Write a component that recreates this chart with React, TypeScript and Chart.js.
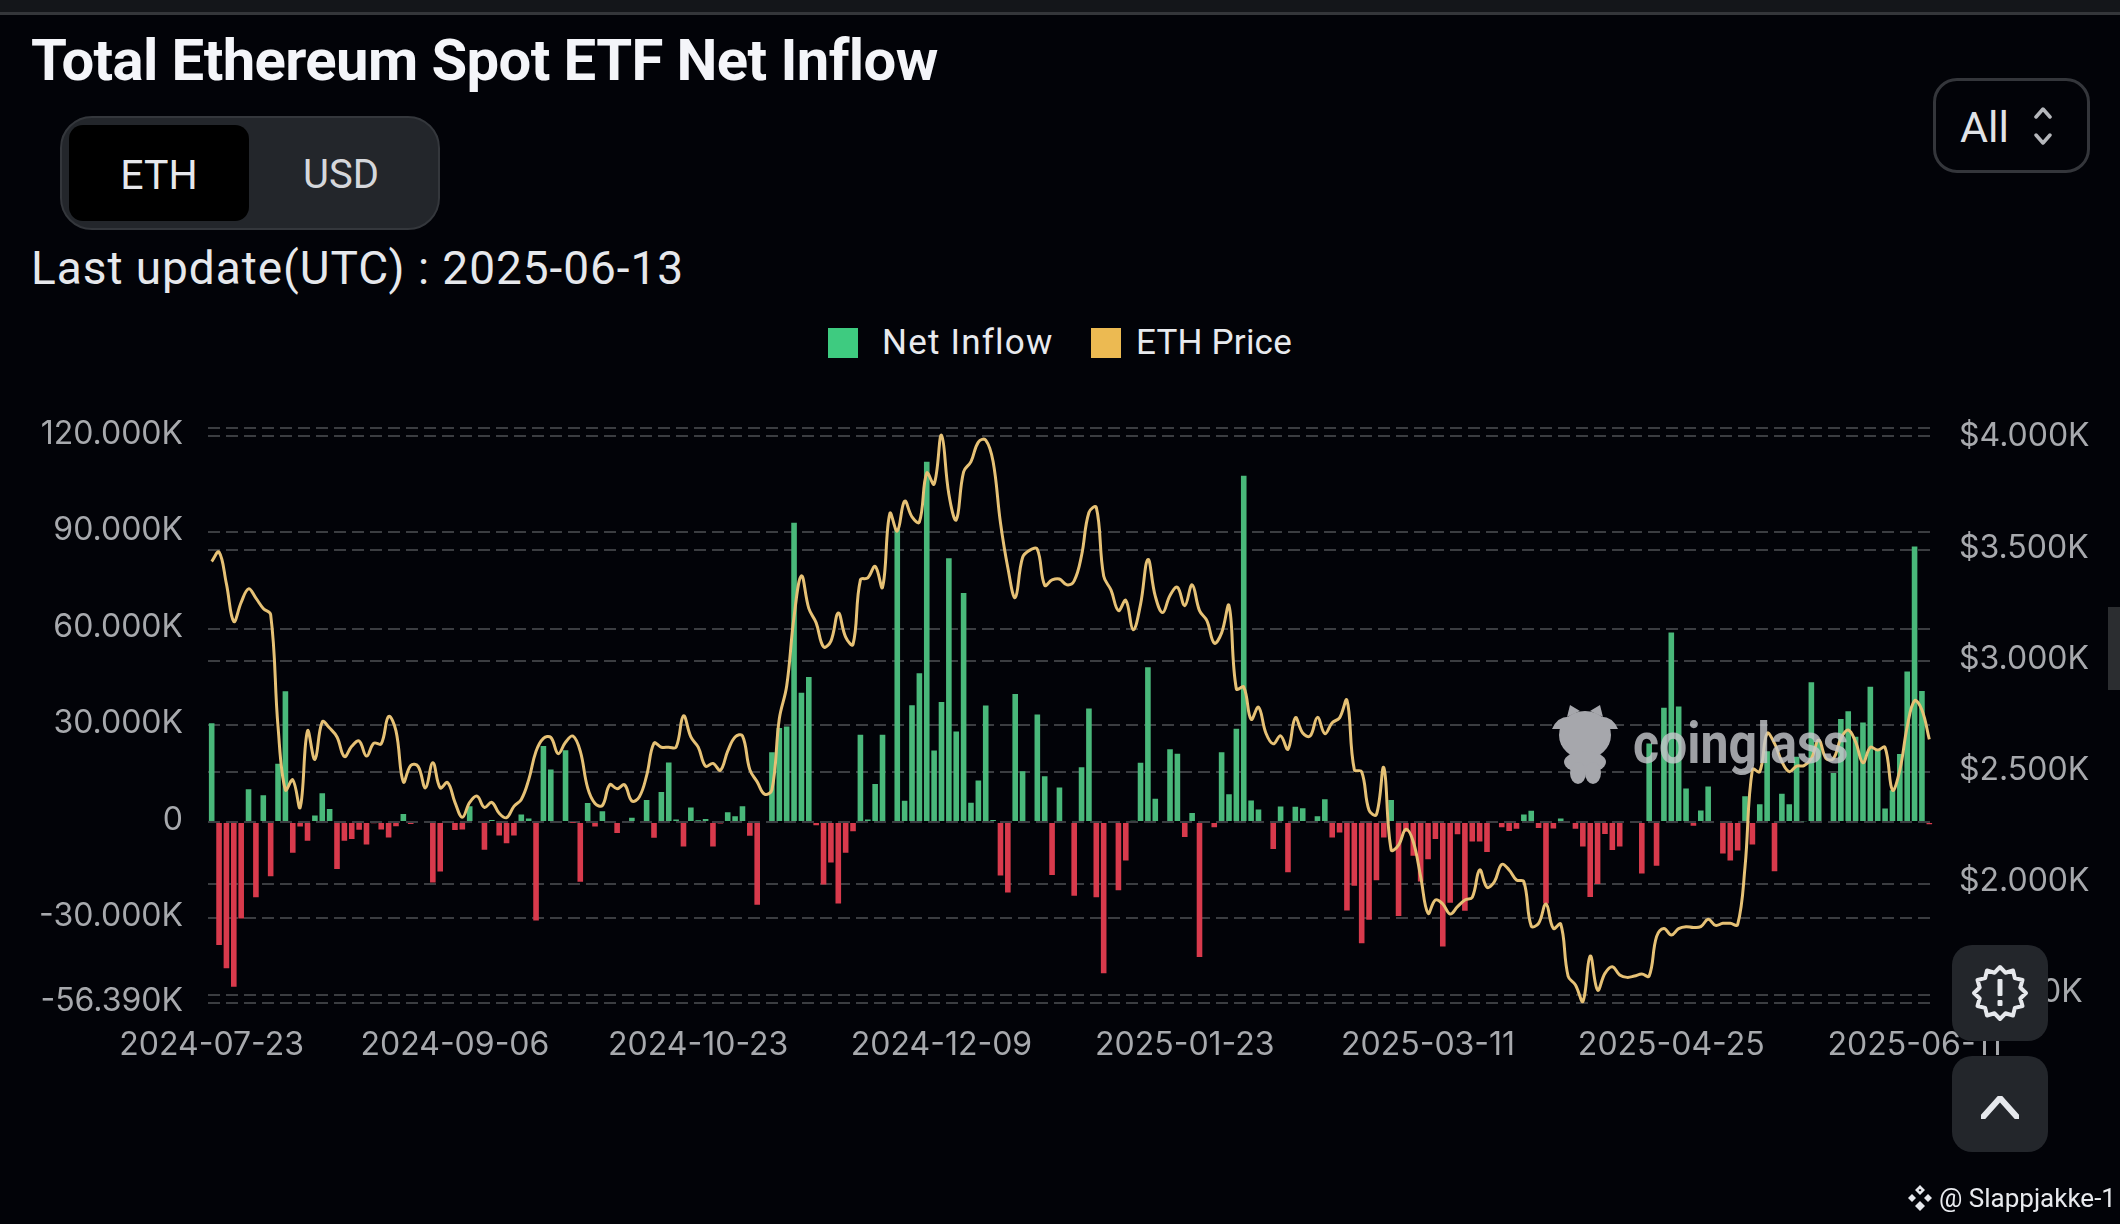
import { useEffect, useRef } from "react";
import { Chart, registerables } from "chart.js";

Chart.register(...registerables);

// net inflow per trading day, thousands of ETH
const netInflow = [
  30.7, -38.2, -45.5, -51.2, -30, 10.2, -23.4, 8.3, -16.9, 18.1, 40.6, -9.6, -1.4, -5.8, 2, 8.9, 4, -14.6, -5.8, -5.3,
  -2.4, -7, -0.4, -2.3, -4.8, -1.3, 2.5, -0.6, 0, 0, -18.8, -15.4, 0, -2.5, -2.3, 4.9, 0, -8.6, 0.6, -4.2,
  -6.6, -4.2, 2.3, 1.1, -30.6, 23.6, 16.3, 0, 22.3, -0.1, -18.6, 5.9, -1.4, 3.3, 0, -3.4, 0, 1.3, 0, 6.8,
  -4.9, 9.3, 18.5, 0.8, -7.6, 4.5, 0.5, 0.9, -7.6, -0.5, 3, 1.8, 4.9, -4.3, -25.7, 0, 21.7, 29.2, 29.7, 93,
  40.2, 45.1, -1, -19.4, -12.6, -25.3, -9.6, -2.9, 27.1, 0.8, 11.8, 27.1, 0, 91, 6.6, 36.3, 46.2, 112, 22.2, 37.3,
  82, 28.1, 71.2, 6, 12.9, 36.2, 0.6, -16.6, -21.9, 39.8, 15.8, 0, 33.4, 14.2, -16.5, 10.7, 0, -22.9, 17, 35.3,
  -23.4, -47, 0, -21.2, -12, 0.4, 18.4, 48.1, 7.2, 0, 22.6, 21.2, -4.7, 2.8, -42, 0, -1.6, 21.7, 8.6, 29,
  107.6, 6.7, 3.9, 0, -8.4, 4.8, -15.6, 4.7, 4.3, 0, 1.8, 7.1, -4.8, -3.3, -27.5, -19.8, -37.7, -30.4, -18.1, -4.8,
  6.8, -29.2, -3, -10.5, -18.5, -11.6, -5.3, -38.7, -25.1, -3.8, -27.6, -6.1, -6.1, -9.3, 0, -1.6, -2.8, -2.1, 2.3, 3.5,
  -1.9, -25.3, -2, 1.1, 0, -2.1, -7.6, -23.3, -19.3, -3.7, -8.7, -7.6, 0, 0, -16, 24.4, -13.6, 35.5, 58.9, 35.9,
  10.4, -1.2, 3.6, 11, 0, -9.8, -12, -8.9, 8, -7, 5.5, 22, -15.3, 8.8, 5.5, 20.3, 0.2, 43.4, 25, 0,
  15.2, 32, 34.4, 26.5, 30.9, 42, 22.4, 4.2, 9.9, 21.1, 46.8, 85.6, 40.7, -0.7,
];

const ethPrice = [
  3448, 3490, 3347, 3178, 3264, 3325, 3283, 3237, 3209, 2705, 2421, 2466, 2342, 2686, 2558, 2727, 2699, 2659, 2571, 2617,
  2641, 2573, 2631, 2628, 2751, 2686, 2457, 2531, 2527, 2430, 2543, 2430, 2454, 2365, 2298, 2365, 2393, 2342, 2365, 2316,
  2296, 2347, 2378, 2466, 2595, 2653, 2657, 2584, 2635, 2663, 2595, 2430, 2360, 2351, 2444, 2426, 2444, 2371, 2389, 2485,
  2631, 2613, 2613, 2613, 2754, 2659, 2613, 2527, 2540, 2509, 2595, 2659, 2664, 2512, 2457, 2402, 2421, 2741, 2888, 3200,
  3383, 3237, 3172, 3064, 3090, 3216, 3108, 3075, 3365, 3374, 3426, 3332, 3664, 3585, 3719, 3649, 3625, 3846, 3796, 4016,
  3750, 3635, 3851, 3897, 3985, 3994, 3897, 3622, 3420, 3286, 3466, 3499, 3503, 3341, 3365, 3369, 3343, 3361, 3475, 3668,
  3691, 3383, 3319, 3227, 3273, 3141, 3255, 3457, 3292, 3218, 3295, 3332, 3249, 3343, 3227, 3182, 3081, 3127, 3249, 2875,
  2883, 2738, 2793, 2677, 2628, 2664, 2604, 2745, 2677, 2663, 2747, 2674, 2723, 2745, 2824, 2512, 2503, 2329, 2310, 2521,
  2151, 2173, 2244, 2188, 2031, 1866, 1926, 1908, 1863, 1896, 1926, 1938, 2061, 1983, 2008, 2086, 2061, 2016, 2008, 1809,
  1821, 1908, 1798, 1818, 1584, 1544, 1469, 1674, 1521, 1596, 1626, 1589, 1578, 1584, 1593, 1584, 1761, 1798, 1768, 1797,
  1806, 1802, 1806, 1839, 1812, 1821, 1821, 1815, 2075, 2513, 2503, 2675, 2630, 2548, 2503, 2528, 2530, 2562, 2645, 2562,
  2562, 2652, 2690, 2637, 2543, 2612, 2600, 2612, 2420, 2510, 2705, 2822, 2780, 2648,
];

const dateTicks = [
  "2024-07-23", "2024-09-06", "2024-10-23", "2024-12-09",
  "2025-01-23", "2025-03-11", "2025-04-25", "2025-06-11",
];
const dateStep = 33;

const inflowTicks = [120, 90, 60, 30, 0, -30, -56.39];
const priceTicks = [4049, 4000, 3500, 3000, 2500, 2000, 1500];

const GREEN = "#49b87a";
const RED = "#d83a4c";
const GOLD = "#e6c175";
const GRID = "#3b3d41";
const TICK = "#a7a9ad";
const PANEL = "#23262b";
const BG = "#020308";

function NetInflowChart() {
  const canvasRef = useRef<HTMLCanvasElement | null>(null);

  useEffect(() => {
    if (!canvasRef.current) {
      return;
    }
    const tickFont = { family: "Inter", size: 32 };
    const labels = netInflow.map((_, i) =>
      i % dateStep === 0 ? dateTicks[i / dateStep] : ""
    );

    const chart = new Chart(canvasRef.current, {
      type: "bar",
      data: {
        labels,
        datasets: [
          {
            type: "line",
            label: "ETH Price",
            data: ethPrice,
            yAxisID: "yPrice",
            borderColor: GOLD,
            borderWidth: 3,
            pointRadius: 0,
            tension: 0.4,
            order: 0,
          },
          {
            type: "bar",
            label: "Net Inflow",
            data: netInflow,
            yAxisID: "yInflow",
            backgroundColor: netInflow.map((v) => (v >= 0 ? GREEN : RED)),
            borderWidth: 0,
            barPercentage: 0.76,
            categoryPercentage: 1,
            order: 1,
          },
        ],
      },
      options: {
        responsive: false,
        animation: false,
        devicePixelRatio: 1,
        layout: { padding: { top: 427.8, bottom: 120.6, left: 0, right: 0 } },
        plugins: { legend: { display: false }, tooltip: { enabled: false } },
        scales: {
          x: {
            grid: { display: false },
            border: { display: false },
            afterFit: (s: any) => {
              s.height = 100;
            },
            ticks: {
              color: TICK,
              font: tickFont,
              autoSkip: false,
              maxRotation: 0,
              minRotation: 0,
              padding: 15,
            },
          },
          yInflow: {
            position: "left",
            min: -56.39,
            max: 122.52,
            afterFit: (s: any) => {
              s.width = 208;
            },
            afterBuildTicks: (s: any) => {
              s.ticks = inflowTicks.map((value) => ({ value }));
            },
            grid: { color: GRID, lineWidth: 2, drawTicks: false },
            border: { display: false, dash: [12, 6] },
            ticks: {
              color: TICK,
              font: tickFont,
              padding: 25,
              labelOffset: -2,
              callback: (v: any) => (v === 0 ? "0" : `${Number(v).toFixed(3)}K`),
            },
          },
          yPrice: {
            position: "right",
            min: 1461,
            max: 4049,
            afterFit: (s: any) => {
              s.width = 187;
            },
            afterBuildTicks: (s: any) => {
              s.ticks = priceTicks.map((value) => ({ value }));
            },
            grid: {
              lineWidth: 2,
              drawTicks: false,
              color: (ctx: any) => (ctx.tick && ctx.tick.value === 4000 ? "transparent" : GRID),
            },
            border: { display: false, dash: [12, 6] },
            ticks: {
              color: TICK,
              font: tickFont,
              padding: 26,
              labelOffset: -2,
              callback: (v: any) => (v > 4000 ? "" : `$${(Number(v) / 1000).toFixed(3)}K`),
            },
          },
        },
      },
    } as any);

    return () => chart.destroy();
  }, []);

  return (
    <canvas
      ref={canvasRef}
      width={2120}
      height={1224}
      style={{ position: "absolute", left: 0, top: 0, width: 2120, height: 1224 }}
    />
  );
}

function Text({ x, y, size, color, weight, children, scaleY, center, spacing }: any) {
  return (
    <div
      style={{
        position: "absolute",
        left: x,
        top: y,
        fontFamily: "Roboto",
        fontSize: size,
        fontWeight: weight || 400,
        color,
        whiteSpace: "nowrap",
        lineHeight: 1,
        letterSpacing: spacing || 0,
        transform: `translate(${center ? "-50%" : "0"}, -50%) scaleY(${scaleY || 1})`,
      }}
    >
      {children}
    </div>
  );
}

function Box({ x, y, w, h, r, bg, border }: any) {
  return (
    <div
      style={{
        position: "absolute",
        left: x,
        top: y,
        width: w,
        height: h,
        borderRadius: r,
        background: bg,
        border,
        boxSizing: "border-box",
      }}
    />
  );
}

function Cow() {
  return (
    <svg
      style={{ position: "absolute", left: 1550, top: 705 }}
      width={70}
      height={80}
      viewBox="0 0 70 80"
      fill="#a6a7ac"
    >
      <ellipse cx={35} cy={30} rx={26} ry={24} />
      <path d="M2 24 Q8 10 22 12 L22 24 Z M68 24 Q62 10 48 12 L48 24 Z" />
      <path d="M17 12 L20 0 L30 6 Z M53 12 L50 0 L40 6 Z" />
      <ellipse cx={35} cy={57} rx={21} ry={11} />
      <ellipse cx={28} cy={68} rx={8} ry={11} />
      <ellipse cx={43} cy={68} rx={8} ry={11} />
    </svg>
  );
}

function Badge() {
  const pts = Array.from({ length: 24 }, (_, i) => {
    const a = (i * Math.PI) / 12;
    const r = i % 2 === 0 ? 26 : 21;
    return `${30 + r * Math.sin(a)},${30 - r * Math.cos(a)}`;
  }).join(" ");
  return (
    <svg style={{ position: "absolute", left: 1970, top: 963 }} width={60} height={60} viewBox="0 0 60 60">
      <polygon points={pts} fill="none" stroke="#e6e8ec" strokeWidth={4} strokeLinejoin="round" />
      <rect x={27.5} y={16} width={5} height={17} rx={1} fill="#e6e8ec" />
      <rect x={27.5} y={37} width={5} height={6} rx={1} fill="#e6e8ec" />
    </svg>
  );
}

function Chevron({ x, y, w, h, up, color, sw }: any) {
  return (
    <svg style={{ position: "absolute", left: x - w / 2, top: y - h / 2 }} width={w} height={h}>
      <polyline
        points={up ? `2,${h - 2} ${w / 2},2 ${w - 2},${h - 2}` : `2,2 ${w / 2},${h - 2} ${w - 2},2`}
        fill="none"
        stroke={color}
        strokeWidth={sw}
        strokeLinecap="round"
        strokeLinejoin="round"
      />
    </svg>
  );
}

export default function App() {
  return (
    <div
      style={{
        position: "fixed",
        left: 0,
        top: 0,
        width: 2120,
        height: 1224,
        overflow: "hidden",
        background: BG,
      }}
    >
      <Box x={0} y={0} w={2120} h={12} r={0} bg="#14161a" />
      <Box x={0} y={12} w={2120} h={3} r={0} bg="#34363a" />

      <Text x={31} y={60} size={58} weight={700} color="#f4f5f9" spacing={-0.6}>
        Total Ethereum Spot ETF Net Inflow
      </Text>

      <Box x={60} y={116} w={380} h={114} r={32} bg={PANEL} border="2px solid #34373c" />
      <Box x={69} y={125} w={180} h={96} r={14} bg="#000" />
      <Text x={159} y={175} size={41} color="#e6e8ec" center>ETH</Text>
      <Text x={341} y={175} size={40} color="#d5d7db" center>USD</Text>

      <Text x={31} y={268} size={46} color="#e6e8ec" spacing={0.95}>Last update(UTC) : 2025-06-13</Text>

      <Box x={1933} y={78} w={157} h={95} r={24} bg="transparent" border="3px solid #34363b" />
      <Text x={1960} y={127} size={43} color="#e0e2e6">All</Text>
      <Chevron x={2043} y={113} w={18} h={12} up color="#b5b7bb" sw={3.5} />
      <Chevron x={2043} y={139} w={18} h={12} color="#b5b7bb" sw={3.5} />

      <Box x={828} y={328} w={30} h={30} r={0} bg="#3ecb80" />
      <Text x={882} y={342} size={35} color="#e8eaee" spacing={1.2}>Net Inflow</Text>
      <Box x={1091} y={328} w={30} h={30} r={0} bg="#ecba52" />
      <Text x={1136} y={342} size={35} color="#e8eaee" spacing={0.2}>ETH Price</Text>

      <NetInflowChart />

      <Cow />
      <div
        style={{
          position: "absolute",
          left: 1633,
          top: 744,
          opacity: 0.8,
          transform: "translateY(-50%) scaleY(1.13)",
          fontFamily: "Roboto",
          fontWeight: 700,
          fontSize: 50,
          lineHeight: 1,
          color: "#c6c8cc",
        }}
      >
        coinglass
      </div>

      <Box x={2108} y={607} w={12} h={83} r={0} bg="#2b2d30" />

      <Box x={1952} y={945} w={96} h={96} r={20} bg={PANEL} />
      <Badge />
      <Box x={1952} y={1056} w={96} h={96} r={20} bg={PANEL} />
      <Chevron x={2000} y={1107} w={38} h={23} up color="#e6e8ec" sw={6} />

      <svg style={{ position: "absolute", left: 1906, top: 1184 }} width={28} height={28} viewBox="0 0 28 28" fill="#e6e8ec">
        <path d="M14 1 L19 6 L14 11 L9 6 Z M14 5 L15.5 6 L14 7.5 L12.5 6 Z" fillRule="evenodd" />
        <path d="M14 17 L19 22 L14 27 L9 22 Z" />
        <path d="M6 10 L10 14 L6 18 L2 14 Z M22 10 L26 14 L22 18 L18 14 Z" />
      </svg>
      <Text x={1939} y={1198} size={26} color="#e8eaee">@ Slappjakke-1</Text>
    </div>
  );
}
